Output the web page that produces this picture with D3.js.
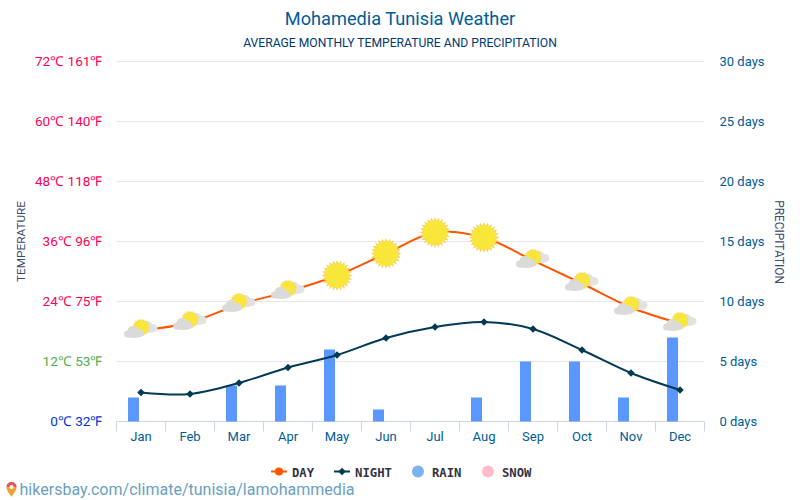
<!DOCTYPE html>
<html><head><meta charset="utf-8">
<script src="https://cdnjs.cloudflare.com/ajax/libs/d3/7.8.5/d3.min.js"></script>
<style>html,body{margin:0;padding:0;background:#fff}svg{display:block;font-family:Roboto,sans-serif}</style>
</head><body><svg id="c" width="800" height="500"></svg>
<script>
const months=["Jan","Feb","Mar","Apr","May","Jun","Jul","Aug","Sep","Oct","Nov","Dec"];
const dayTemp=[18.2,19.8,23.4,26,29.2,33.6,37.8,36.8,32.2,27.6,22.8,19.6];
const nightTemp=[5.8,5.5,7.7,10.8,13.3,16.7,18.9,19.9,18.5,14.3,9.7,6.3];
const rainDays=[2,0,3,3,6,1,0,2,5,5,2,7];
const weatherIcons=["cloud","cloud","cloud","cloud","sun","sun","sun","sun","cloud","cloud","cloud","cloud"];
const tempTicks=[0,12,24,36,48,60,72];
const tempTickF=[32,53,75,96,118,140,161];
const dayTicks=[0,5,10,15,20,25,30];
const legendItems=["DAY","NIGHT","RAIN","SNOW"];

const svg=d3.select("#c");
const x=d3.scaleBand().domain(months).range([116.5,704.5]);
const yT=d3.scaleLinear().domain([0,72]).range([421.5,61.5]);
const yR=d3.scaleLinear().domain([0,30]).range([421.5,61.5]);
const cx=m=>x(m)+x.bandwidth()/2;

svg.append("text").attr("x",400).attr("y",24.5).attr("text-anchor","middle").attr("font-size",18.2).attr("fill","#005c99").text("Mohamedia Tunisia Weather");
svg.append("text").attr("x",400).attr("y",46.5).attr("text-anchor","middle").attr("font-size",12.15).attr("fill","#003a70").text("AVERAGE MONTHLY TEMPERATURE AND PRECIPITATION");

// left axis with gridlines
const tempColor=v=>v===0?"#0033dd":v===12?"#4caf50":"#ff0055";
const gL=svg.append("g").attr("transform","translate(116.5,0)")
 .call(d3.axisLeft(yT).offset(0).tickValues(tempTicks).tickSize(-588).tickPadding(14)
 .tickFormat((d,i)=>`${d}℃ ${tempTickF[i]}℉`));
gL.select(".domain").remove();
gL.selectAll("line").attr("stroke","#e6e6e6");
gL.selectAll("text").attr("y",0.4).attr("font-size",13.6).attr("font-family","Roboto,sans-serif").attr("fill",d=>tempColor(d));

// right axis
const gR=svg.append("g").attr("transform","translate(704.5,0)")
 .call(d3.axisRight(yR).offset(0).tickValues(dayTicks).tickSize(0).tickPadding(15).tickFormat(d=>`${d} days`));
gR.select(".domain").remove();
gR.selectAll("text").attr("y",0.4).attr("font-size",13).attr("font-family","Roboto,sans-serif").attr("fill","#005c99");

// x axis
const gX=svg.append("g").attr("transform","translate(0,421.5)")
 .call(d3.axisBottom(x).offset(0).tickSize(0).tickPadding(10));
gX.select(".domain").attr("stroke","#ccd6eb");
gX.selectAll("text").attr("font-size",13).attr("font-family","Roboto,sans-serif").attr("fill","#005c99");
svg.append("g").selectAll("line").data(months.concat(["end"])).join("line")
 .attr("x1",d=>d==="end"?x.range()[1]:x(d)).attr("x2",d=>d==="end"?x.range()[1]:x(d))
 .attr("y1",421.5).attr("y2",431.5).attr("stroke","#ccd6eb");

// axis titles
svg.append("text").attr("transform","translate(25,241.5) rotate(-90)").attr("text-anchor","middle").attr("font-size",11.8).attr("fill","#3a4a70").text("TEMPERATURE");
svg.append("text").attr("transform","translate(775,242) rotate(90)").attr("text-anchor","middle").attr("font-size",11.9).attr("fill","#3a4a70").text("PRECIPITATION");

// bars
svg.append("g").selectAll("rect").data(months).join("rect")
 .attr("x",m=>cx(m)-13).attr("width",11)
 .attr("y",(m,i)=>yR(rainDays[i])).attr("height",(m,i)=>yR(0)-yR(rainDays[i]))
 .attr("fill","#5a98ff");

// lines
const line=d3.line().x((d,i)=>cx(months[i])).y(d=>yT(d)).curve(d3.curveCatmullRom.alpha(0.5));
svg.append("path").attr("d",line(dayTemp)).attr("fill","none").attr("stroke","#ff5500").attr("stroke-width",2);
svg.append("path").attr("d",line(nightTemp)).attr("fill","none").attr("stroke","#023a55").attr("stroke-width",2);
svg.append("g").selectAll("path").data(nightTemp).join("path")
 .attr("transform",(d,i)=>`translate(${cx(months[i])},${yT(d)})`)
 .attr("d",d3.symbol(d3.symbolDiamond2,36)).attr("fill","#023a55");

// weather icons
function sunShape(g,outer,inner,rays){
 const pts=d3.range(rays*2).map(k=>{const a=k*Math.PI/rays,r=k%2?inner:outer;return [r*Math.sin(a),-r*Math.cos(a)];});
 g.append("polygon").attr("points",pts.join(" ")).attr("fill","#f9cf6a");
 g.append("circle").attr("r",inner+0.6).attr("fill","#f8e63a");
}
function cloudShape(g,dx,dy,fill){
 const c=g.append("g").attr("transform",`translate(${dx},${dy})`).attr("fill",fill);
 [[-6,1.5,4,3.5],[-1,-1.5,5.5,5],[5,0.5,4.5,4],[0,2.5,9,3]].forEach(e=>
  c.append("ellipse").attr("cx",e[0]).attr("cy",e[1]).attr("rx",e[2]).attr("ry",e[3]));
}
const icons=svg.append("g").selectAll("g").data(months).join("g")
 .attr("transform",(m,i)=>`translate(${cx(m)},${yT(dayTemp[i])})`);
icons.each(function(m,i){
 const g=d3.select(this);
 if(weatherIcons[i]==="sun"){sunShape(g,15.5,11.8,24);}
 else{
  cloudShape(g,7,-3,"#e2e3e1");
  const s=g.append("g").attr("transform","translate(0,-3)");
  sunShape(s,9,7,18);
  cloudShape(g,-7,2,"#dadbd9");
 }
});

// legend
const lg=svg.append("g").attr("font-family","'DejaVu Sans Mono',monospace").attr("font-weight","bold").attr("font-size",13).attr("fill","#333344");
const legendX=[292,355,432,502];
const legendW=[22,37,29.5,29.5];
legendItems.forEach((t,i)=>{
 lg.append("text").attr("x",legendX[i]).attr("y",476.5).attr("textLength",legendW[i]).attr("lengthAdjust","spacingAndGlyphs").text(t);
});
lg.append("line").attr("x1",271).attr("x2",287).attr("y1",471.5).attr("y2",471.5).attr("stroke","#ff5500").attr("stroke-width",2);
lg.append("circle").attr("cx",279).attr("cy",471.5).attr("r",4).attr("fill","#ff5500");
lg.append("line").attr("x1",334).attr("x2",350).attr("y1",471.5).attr("y2",471.5).attr("stroke","#023a55").attr("stroke-width",2);
lg.append("path").attr("transform","translate(342,471.5)").attr("d",d3.symbol(d3.symbolDiamond2,36)).attr("fill","#023a55");
lg.append("circle").attr("cx",418).attr("cy",471.5).attr("r",6).attr("fill","#7cb2ee");
lg.append("circle").attr("cx",488).attr("cy",471.5).attr("r",6).attr("fill","#ffbbcc");

// footer
const pin=svg.append("g").attr("transform","translate(11.5,488)");
pin.append("path").attr("d","M0,9 C-2,5 -5,3 -5,-1 A5,5 0 1 1 5,-1 C5,3 2,5 0,9Z").attr("fill","#f0a030");
pin.append("path").attr("d","M-5,-1 A5,5 0 0 1 5,-1 L2,-1 A2,2 0 0 0 -2,-1Z").attr("fill","#e8506a");
pin.append("circle").attr("cy",-1).attr("r",2).attr("fill","#fff");
svg.append("text").attr("x",19.5).attr("y",495).attr("font-size",16.05).attr("fill","#6a9fc0").text("hikersbay.com/climate/tunisia/lamohammedia");
</script></body></html>
